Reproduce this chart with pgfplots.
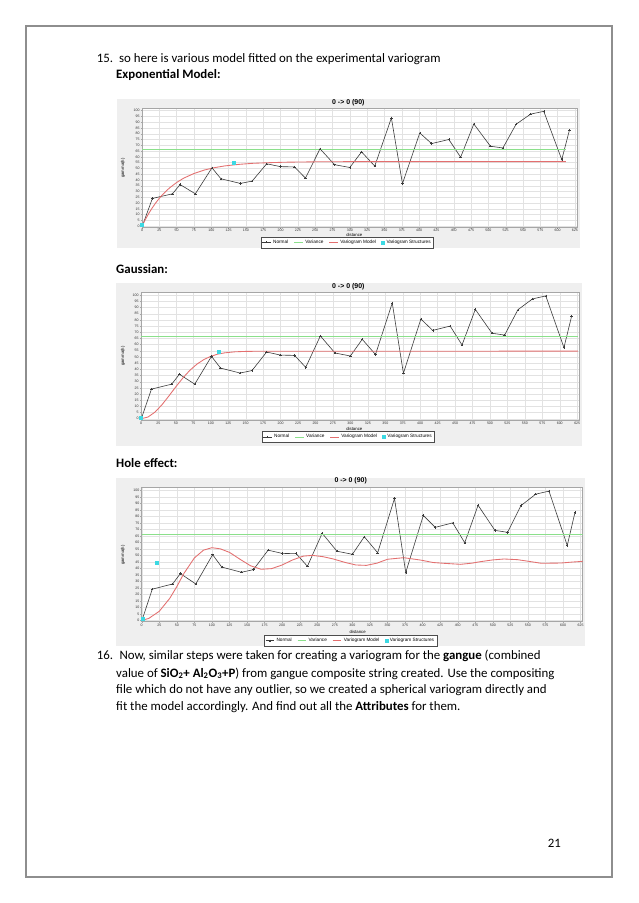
\documentclass[border=0pt]{standalone}
\usepackage{pgfplots}
\pgfplotsset{compat=1.18}
\usepackage{pgfplotstable}
\usepackage{fontspec}
\setmainfont{Carlito}
\newfontfamily\chartfont{Liberation Sans}

\definecolor{pageframe}{HTML}{8E8E8E}
\definecolor{chartbg}{HTML}{EFEFEF}
\definecolor{gridc}{HTML}{E2E2E2}
\definecolor{varg}{HTML}{8BE08B}
\definecolor{modr}{HTML}{E36F6F}
\definecolor{strc}{HTML}{3CD9E3}
\definecolor{normk}{HTML}{3A3A3A}

\newcommand\bodyfont{\fontsize{12}{14.4}\selectfont}
\newcommand\tickfont{\chartfont\fontsize{3.3}{4}\selectfont}
\newcommand\lblfont{\chartfont\fontsize{4}{5}\selectfont}
\newcommand\legfont{\chartfont\fontsize{4.4}{5}\selectfont}
\newcommand\ttlfont{\chartfont\bfseries\fontsize{6.5}{7}\selectfont}

% experimental variogram (same in all three charts)
\pgfplotstableread{
h g
1 1
15 24
44 28
55 36
77 28
101 50.5
114 41
142 37
159 39
180 54
200 51.5
220 51.3
236 41.6
257 67
278 53.2
300 50.8
317 64.3
336 52
360 93.7
376 36.8
401 80.7
418 71.5
443 75
460 59.7
479 88.5
503 69.2
521 67.7
540 88.2
561 97
580 99.4
606 57.6
617 83
}\expvario

\pgfplotsset{vario/.style={
  scale only axis, xmin=0, xmax=628, ymin=-1, ymax=102,
  xtick={0,25,...,625}, ytick={0,5,...,100},
  grid=major, major grid style={draw=gridc, line width=0.3pt},
  axis line style={draw=gray!70, line width=0.4pt},
  tick style={draw=gray!70, line width=0.3pt}, major tick length=1.2pt, tick align=outside,
  xtick pos=bottom, ytick pos=left,
  ticklabel style={font=\tickfont, text=black!80},
  /pgf/number format/assume math mode=true,
  xticklabel style={inner sep=0.4pt}, yticklabel style={inner sep=0.8pt},
  axis background/.style={fill=white},
  legend columns=4,
  legend style={font=\legfont, draw=gray!60!black, line width=0.4pt, fill=white,
    inner sep=0.8pt, anchor=center, cells={anchor=west},
    /tikz/every even column/.append style={column sep=3pt}},
  legend image code/.code={\draw[mark repeat=2,mark phase=2,#1]
    plot coordinates {(0pt,0pt) (4pt,0pt) (8pt,0pt)};},
}}
\pgfplotsset{
  normal/.style={normk, line width=0.55pt, mark=+, mark size=1.1pt, mark options={solid, line width=0.4pt}},
  variance/.style={varg, line width=0.8pt, no marks},
  model/.style={modr, line width=0.8pt, no marks},
  struct/.style={only marks, mark=square*, mark size=1.4pt, strc, mark options={draw=strc, fill=strc}},
}

\begin{document}
\begin{tikzpicture}[x=0.93307pt, y=-0.93307pt]
\path[use as bounding box] (0,0) rectangle (638,903);
\fill[white] (0,0) rectangle (638,903);
\draw[pageframe, line width=1.2pt] (26,26) rectangle (612,877);

\begin{scope}[every node/.style={inner sep=0pt, font=\bodyfont}]
\node[anchor=base west] at (96.7,62) {15.};
\node[anchor=base west] at (119,62) {so here is various model fitted on the experimental variogram};
\node[anchor=base west] at (116,78.5) {\bfseries Exponential Model:};
\node[anchor=base west] at (116,273) {\bfseries Gaussian:};
\node[anchor=base west] at (116,467) {\bfseries Hole effect:};
\node[anchor=base west] at (96.7,659.7) {16.};
\node[anchor=base west] at (119.3,659.7) {Now, similar steps were taken for creating a variogram for the \textbf{gangue} (combined};
\node[anchor=base west] at (116,677) {value of \textbf{SiO\textsubscript{2}+ Al\textsubscript{2}O\textsubscript{3}+P}) from gangue composite string created. Use the compositing};
\node[anchor=base west] at (116,693.7) {file which do not have any outlier, so we created a spherical variogram directly and};
\node[anchor=base west] at (116,710.4) {fit the model accordingly. And find out all the \textbf{Attributes} for them.};
\node[anchor=base east] at (561,847.5) {21};
\end{scope}

% chart backgrounds
\fill[chartbg] (117,99) rectangle (580,248);
\fill[chartbg] (116,283) rectangle (582,446);
\fill[chartbg] (116,478) rectangle (585,646);

% ---------- Exponential ----------
\begin{axis}[vario, width=405.9pt, height=111.0pt, at={(132.50pt,-212.09pt)}, anchor=south west,
  legend style={at={(0.472,-0.126)}}]
\addplot[normal] table[x=h,y=g] {\expvario};
\addplot[variance] coordinates {(0,66.6) (612,66.6)};
\addplot[model] coordinates {
(0,0) (5,5.9) (10,11.3) (15,16.0) (20,20.3) (25,24.1) (30,27.5) (35,30.5) (40,33.2)
(50,37.8) (60,41.5) (75,45.6) (90,48.6) (105,50.7) (120,52.2) (140,53.5)
(160,54.4) (185,55.0) (210,55.4) (250,55.7) (300,55.85) (612,55.9)};
\addplot[struct] coordinates {(0,0.9) (132,55)};
\legend{Normal, Variance, Variogram Model, Variogram Structures}
\end{axis}

% ---------- Gaussian ----------
\begin{axis}[vario, width=408.96pt, height=118.78pt, at={(131.56pt,-391.89pt)}, anchor=south west,
  legend style={at={(0.473,-0.133)}}]
\addplot[normal] table[x=h,y=g] {\expvario};
\addplot[variance] coordinates {(0,66.7) (626,66.7)};
\addplot[model] coordinates {
(0,0) (10,1.4) (20,5.35) (30,11.3) (40,18.45) (50,25.95) (60,33.0) (70,39.2)
(80,44.15) (90,47.9) (100,50.5) (110,52.3) (120,53.35) (135,54.2) (150,54.5)
(170,54.65) (626,54.7)};
\addplot[struct] coordinates {(0,0.5) (111,54.2)};
\legend{Normal, Variance, Variogram Model, Variogram Structures}
\end{axis}

% ---------- Hole effect ----------
\begin{axis}[vario, width=411.48pt, height=125.03pt, at={(132.22pt,-580.09pt)}, anchor=south west,
  legend style={at={(0.474,-0.142)}}]
\addplot[normal] table[x=h,y=g] {\expvario};
\addplot[variance] coordinates {(0,66.3) (628,66.3)};
\addplot[model] coordinates {
(0,0) (10,1.5) (25,7) (40,17) (50,26) (60,36) (75,48) (88,54) (100,55.9) (112,55)
(125,52.3) (140,47) (155,42) (170,39.3) (185,39.8) (200,42.6) (215,46.5) (230,49.4)
(243,50) (258,49) (273,47.2) (290,44.5) (305,42.6) (320,42.3) (335,44) (350,47)
(373,48.2) (397,46.4) (415,44.5) (430,43.9) (454,43.1) (470,44) (483,45.2) (500,46.5)
(516,47.2) (535,46.7) (550,45.5) (569,43.9) (597,44.1) (612,44.8) (628,45.4)};
\addplot[struct] coordinates {(1,1) (21,44.4)};
\legend{Normal, Variance, Variogram Model, Variogram Structures}
\end{axis}

% chart titles and axis labels
\begin{scope}[every node/.style={inner sep=0pt}]
\node[font=\ttlfont] at (348.3,102.3) {0 -> 0 (90)};
\node[font=\ttlfont] at (348.3,286.7) {0 -> 0 (90)};
\node[font=\ttlfont] at (350.7,481) {0 -> 0 (90)};
\node[font=\lblfont] at (354.3,234.6) {distance};
\node[font=\lblfont] at (354.3,428.6) {distance};
\node[font=\lblfont] at (357.7,631.5) {distance};
\node[font=\lblfont, rotate=90] at (123,168) {gamma(h)};
\node[font=\lblfont, rotate=90] at (123,356) {gamma(h)};
\node[font=\lblfont, rotate=90] at (123,555) {gamma(h)};
\end{scope}
\end{tikzpicture}
\end{document}
